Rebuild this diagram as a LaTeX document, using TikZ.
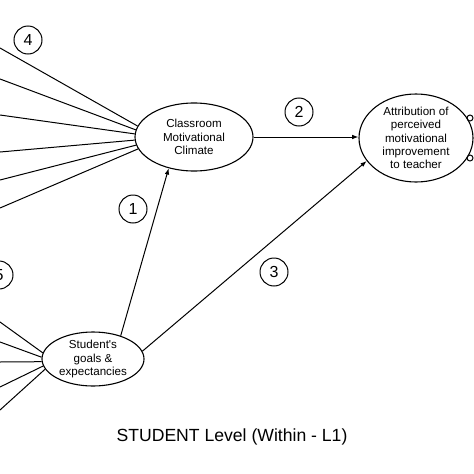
\documentclass[tikz,border=0pt]{standalone}
\usepackage{fontspec}
\setmainfont{Liberation Sans}
\usetikzlibrary{positioning,arrows.meta,shapes.geometric}

\begin{document}
\begin{tikzpicture}[x=1pt,y=-1pt,
latent/.style={draw,ellipse,line width=1.1pt,inner sep=0pt,align=center,
font=\fontsize{11.6}{13.3}\selectfont},
num/.style={draw,circle,line width=1pt,minimum size=28pt,inner sep=0pt,
font=\fontsize{16}{16}\selectfont},
err/.style={draw,circle,line width=1pt,minimum size=6pt,inner sep=0pt},
path/.style={-{Latex[length=2.2mm,width=1.6mm]},line width=1pt},
link/.style={line width=1pt}]
\useasboundingbox (0,0) rectangle (474,474);
\node[latent,minimum width=118pt,minimum height=68pt] (climate) at (194,137) {Classroom\\Motivational\\Climate};
\node[latent,minimum width=114pt,minimum height=88pt] (attrib) at (416,138) {Attribution of\\perceived\\motivational\\improvement\\to teacher};
\node[latent,minimum width=102pt,minimum height=54pt] (goals) at (93,359) {Student\textquotesingle s\\goals \&\\expectancies};
\node[err] (e1) at (470,118) {};
\node[err] (e2) at (470,158) {};
% indicators
\foreach \y/\a [count=\i] in {48/169,79/173,115/177,152/183,180/188,208/192}{
  \coordinate (c\i) at (0,\y);
  \draw[link] (c\i) -- (climate.\a);}
\foreach \y/\a [count=\i] in {322/173,342/178,362/183,387/188,410/192}{
  \coordinate (g\i) at (0,\y);
  \draw[link] (g\i) -- (goals.\a);}
% paths
\draw[path] (goals.40) -- (climate.-129);
\draw[path] (climate) -- (attrib.west|-climate);
\draw[path] (goals.9) -- (attrib.205);
\node[num] (n4) at (28,40) {4};
\node[num] (n5) at (-1,275) {5};
\node[num] (n1) at (133,209) {1};
\node[num] (n2) at (299,112) {2};
\node[num] (n3) at (274,272) {3};
\node[font=\fontsize{17.6}{17.6}\selectfont] (level) at (232,437) {STUDENT Level (Within - L1)};
\end{tikzpicture}
\end{document}
